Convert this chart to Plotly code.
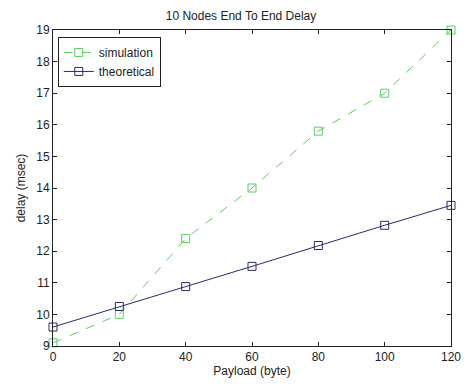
import plotly.graph_objects as go

payload = [0, 20, 40, 60, 80, 100, 120]
simulation = [9.1, 10.0, 12.4, 14.0, 15.8, 17.0, 19.0]
theoretical = [9.6, 10.25, 10.88, 11.52, 12.18, 12.82, 13.45]
x_ticks = [0, 20, 40, 60, 80, 100, 120]
y_ticks = [9, 10, 11, 12, 13, 14, 15, 16, 17, 18, 19]

font = dict(family="Liberation Sans, Arial, sans-serif", size=12, color="#222222")

fig = go.Figure()
fig.add_trace(go.Scatter(
    x=payload, y=simulation, name="simulation", mode="lines+markers",
    line=dict(color="#5fcc5f", width=1, dash="dash"),
    marker=dict(symbol="square-open", size=8, color="#5fcc5f", line=dict(width=1)),
    cliponaxis=False,
))
fig.add_trace(go.Scatter(
    x=payload, y=theoretical, name="theoretical", mode="lines+markers",
    line=dict(color="#2a2a6a", width=1),
    marker=dict(symbol="square-open", size=8, color="#2a2a6a", line=dict(width=1)),
    cliponaxis=False,
))

axis_common = dict(
    showgrid=False, zeroline=False, showline=True, linecolor="#222222",
    linewidth=1, mirror="ticks", ticks="inside", ticklen=4,
    tickcolor="#222222", tickfont=font,
)

H = 381
fig.update_layout(
    width=466, height=H,
    margin=dict(l=40, r=23, t=22, b=43),
    paper_bgcolor="white", plot_bgcolor="white",
    font=font,
    title=dict(text="10 Nodes End To End Delay", x=0.5, xanchor="center",
               y=1 - 8 / H, yanchor="middle", font=font),
    xaxis=dict(range=[0, 120], tickvals=x_ticks,
               title=dict(text="Payload (byte)", font=font, standoff=3), **axis_common),
    yaxis=dict(range=[9, 19], tickvals=y_ticks,
               title=dict(text="delay (msec)", font=font, standoff=8), **axis_common),
    legend=dict(x=0.012, y=0.978, xanchor="left", yanchor="top",
                bordercolor="#222222", borderwidth=1, bgcolor="white",
                font=font, tracegroupgap=0, itemwidth=30),
    showlegend=True,
)

fig.write_html("out.html")
